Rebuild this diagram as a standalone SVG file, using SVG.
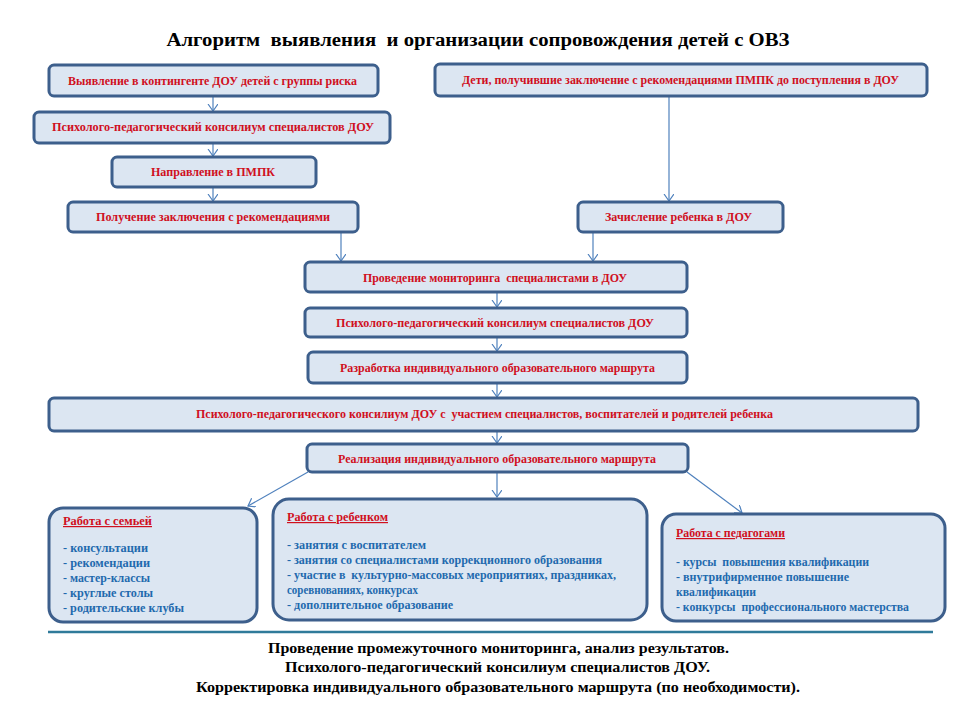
<svg xmlns="http://www.w3.org/2000/svg" width="960" height="720" viewBox="0 0 960 720">
<style>
.box{fill:#DCE6F2;stroke:#3D5F8C;stroke-width:3}
.card{fill:#DCE6F2;stroke:#3D5F8C;stroke-width:3}
.lbl{font-size:12px;fill:#D0101E;text-anchor:middle}
.hd{font-size:12px;fill:#D0101E;text-decoration:underline}
.it{font-size:12px;fill:#1F6AAE}
.ft{font-size:14px;fill:#000;text-anchor:middle}
.title{font-size:18px;fill:#000;text-anchor:middle}
.con{stroke:#4F81BD;stroke-width:1.2;fill:none;marker-end:url(#arr)}
</style>
<defs>
<marker id="arr" markerUnits="userSpaceOnUse" markerWidth="12" markerHeight="12" refX="7" refY="5" orient="auto">
<path d="M0,0 L7,5 L0,10" fill="none" stroke="#4F81BD" stroke-width="1.2"/>
</marker>
</defs>
<rect width="960" height="720" fill="#FFFFFF"/>
<g font-family="Liberation Serif, Times New Roman, DejaVu Serif, serif" font-weight="bold">
<text class="title" x="478" y="46" textLength="623" lengthAdjust="spacingAndGlyphs" xml:space="preserve">Алгоритм  выявления  и организации сопровождения детей с ОВЗ</text>

<g id="connectors">
<line class="con" x1="213" y1="97" x2="213" y2="111"/>
<line class="con" x1="213" y1="144" x2="213" y2="156"/>
<line class="con" x1="213" y1="188" x2="213" y2="201"/>
<line class="con" x1="669" y1="97" x2="669" y2="201"/>
<line class="con" x1="341" y1="233" x2="341" y2="261"/>
<line class="con" x1="593" y1="233" x2="593" y2="261"/>
<line class="con" x1="497" y1="293" x2="497" y2="307"/>
<line class="con" x1="497" y1="338" x2="497" y2="351"/>
<line class="con" x1="497" y1="384" x2="497" y2="397"/>
<line class="con" x1="497" y1="432" x2="497" y2="443"/>
<line class="con" x1="308" y1="472" x2="248" y2="506"/>
<line class="con" x1="497" y1="473" x2="497" y2="497"/>
<line class="con" x1="687" y1="472" x2="742" y2="513"/>
</g>

<g id="n1"><rect class="box" x="49" y="65" width="329" height="31" rx="5"/><text class="lbl" x="212.5" y="85" textLength="289" lengthAdjust="spacingAndGlyphs">Выявление в контингенте ДОУ детей с группы риска</text></g>
<g id="n2"><rect class="box" x="34" y="112" width="356" height="31" rx="5"/><text class="lbl" x="213" y="131" textLength="322" lengthAdjust="spacingAndGlyphs">Психолого-педагогический консилиум специалистов ДОУ</text></g>
<g id="n3"><rect class="box" x="112" y="157" width="204" height="30" rx="5"/><text class="lbl" x="213" y="176" textLength="124" lengthAdjust="spacingAndGlyphs">Направление в ПМПК</text></g>
<g id="n4"><rect class="box" x="68" y="202" width="290" height="30" rx="5"/><text class="lbl" x="213" y="221" textLength="234" lengthAdjust="spacingAndGlyphs">Получение заключения с рекомендациями</text></g>
<g id="n5"><rect class="box" x="435" y="64" width="492" height="32" rx="5"/><text class="lbl" x="680.5" y="84" textLength="437" lengthAdjust="spacingAndGlyphs">Дети, получившие заключение с рекомендациями ПМПК до поступления в ДОУ</text></g>
<g id="n6"><rect class="box" x="578" y="202" width="205" height="30" rx="5"/><text class="lbl" x="678.5" y="221" textLength="147" lengthAdjust="spacingAndGlyphs">Зачисление ребенка в ДОУ</text></g>
<g id="n7"><rect class="box" x="305" y="262" width="382" height="30" rx="5"/><text class="lbl" x="495" y="282" textLength="264" lengthAdjust="spacingAndGlyphs" xml:space="preserve">Проведение мониторинга  специалистами в ДОУ</text></g>
<g id="n8"><rect class="box" x="305" y="308" width="382" height="29" rx="5"/><text class="lbl" x="495" y="327" textLength="318" lengthAdjust="spacingAndGlyphs">Психолого-педагогический консилиум специалистов ДОУ</text></g>
<g id="n9"><rect class="box" x="308" y="352" width="379" height="31" rx="5"/><text class="lbl" x="497.5" y="372" textLength="315" lengthAdjust="spacingAndGlyphs">Разработка индивидуального образовательного маршрута</text></g>
<g id="n10"><rect class="box" x="49" y="398" width="869" height="33" rx="5"/><text class="lbl" x="484.5" y="418" textLength="577" lengthAdjust="spacingAndGlyphs" xml:space="preserve">Психолого-педагогического консилиум ДОУ с  участием специалистов, воспитателей и родителей ребенка</text></g>
<g id="n11"><rect class="box" x="307" y="444" width="381" height="28" rx="5"/><text class="lbl" x="497" y="463" textLength="318" lengthAdjust="spacingAndGlyphs">Реализация индивидуального образовательного маршрута</text></g>

<g id="family">
<rect class="card" x="49" y="508" width="208" height="114" rx="14"/>
<text class="hd" x="63" y="525" textLength="89" lengthAdjust="spacingAndGlyphs">Работа с семьей</text>
<text class="it" x="63" y="552" textLength="85" lengthAdjust="spacingAndGlyphs">- консультации</text>
<text class="it" x="63" y="567" textLength="87" lengthAdjust="spacingAndGlyphs">- рекомендации</text>
<text class="it" x="63" y="582" textLength="87" lengthAdjust="spacingAndGlyphs">- мастер-классы</text>
<text class="it" x="63" y="597" textLength="90" lengthAdjust="spacingAndGlyphs">- круглые столы</text>
<text class="it" x="63" y="612" textLength="121" lengthAdjust="spacingAndGlyphs">- родительские клубы</text>
</g>

<g id="child">
<rect class="card" x="273" y="499" width="374" height="121" rx="16"/>
<text class="hd" x="287" y="521" textLength="101" lengthAdjust="spacingAndGlyphs">Работа с ребенком</text>
<text class="it" x="287" y="549" textLength="139" lengthAdjust="spacingAndGlyphs">- занятия с воспитателем</text>
<text class="it" x="287" y="564" textLength="315" lengthAdjust="spacingAndGlyphs">- занятия со специалистами коррекционного образования</text>
<text class="it" x="287" y="579" textLength="329" lengthAdjust="spacingAndGlyphs" xml:space="preserve">- участие в  культурно-массовых мероприятиях, праздниках,</text>
<text class="it" x="287" y="594" textLength="131" lengthAdjust="spacingAndGlyphs">соревнованиях, конкурсах</text>
<text class="it" x="287" y="609" textLength="166" lengthAdjust="spacingAndGlyphs">- дополнительное образование</text>
</g>

<g id="teachers">
<rect class="card" x="662" y="514" width="283" height="107" rx="14"/>
<text class="hd" x="676" y="537" textLength="109" lengthAdjust="spacingAndGlyphs">Работа с педагогами</text>
<text class="it" x="676" y="566" textLength="193" lengthAdjust="spacingAndGlyphs" xml:space="preserve">- курсы  повышения квалификации</text>
<text class="it" x="676" y="581" textLength="173" lengthAdjust="spacingAndGlyphs">- внутрифирменное повышение</text>
<text class="it" x="676" y="596" textLength="80" lengthAdjust="spacingAndGlyphs">квалификации</text>
<text class="it" x="676" y="611" textLength="233" lengthAdjust="spacingAndGlyphs" xml:space="preserve">- конкурсы  профессионального мастерства</text>
</g>

<line x1="48" y1="632" x2="933" y2="632" stroke="#2F7A9A" stroke-width="2.5"/>
<text class="ft" x="498.5" y="653" textLength="461" lengthAdjust="spacingAndGlyphs">Проведение промежуточного мониторинга, анализ результатов.</text>
<text class="ft" x="497.5" y="672" textLength="425" lengthAdjust="spacingAndGlyphs">Психолого-педагогический консилиум специалистов ДОУ.</text>
<text class="ft" x="498" y="692" textLength="604" lengthAdjust="spacingAndGlyphs">Корректировка индивидуального образовательного маршрута (по необходимости).</text>
</g>
</svg>
